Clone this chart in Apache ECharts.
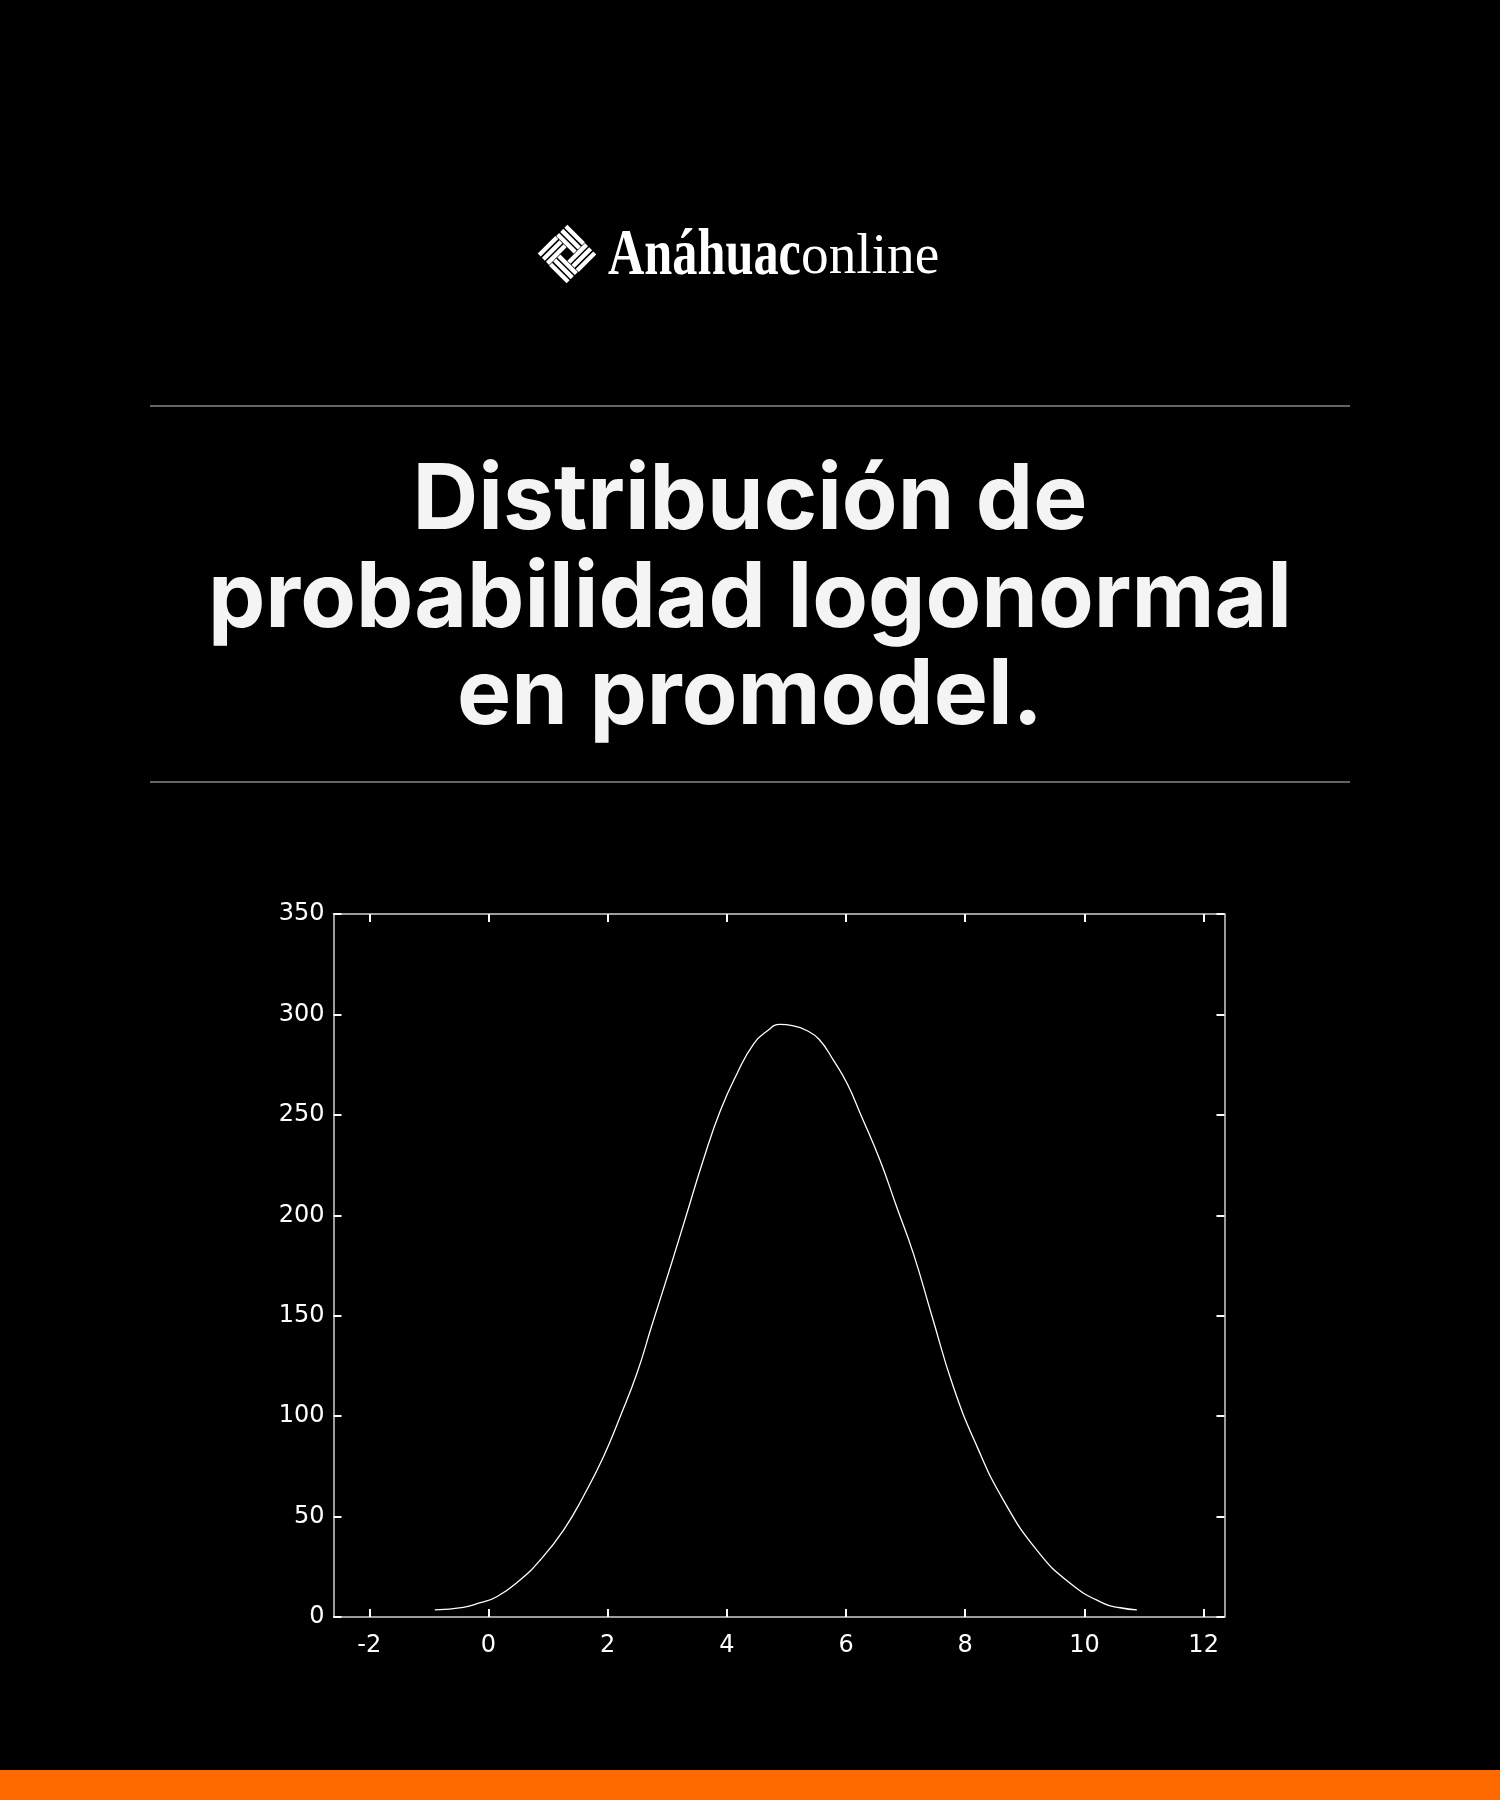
<!DOCTYPE html>
<html>
<head>
<meta charset="utf-8">
<script src="https://cdn.jsdelivr.net/npm/echarts@6/dist/echarts.min.js"></script>
<style>
html,body{margin:0;padding:0;background:#000;}
#chart{width:1500px;height:1800px;}
</style>
</head>
<body>
<div id="chart"></div>
<script>
// ---- data ----
const xValues = [-0.9, -0.42, -0.15, 0.14, 0.53, 0.87, 1.26, 1.59, 1.93, 2.21, 2.49, 2.74, 3.05, 3.33, 3.61, 3.89, 4.17, 4.45, 4.67, 4.89, 5.1, 5.34, 5.55, 5.79, 6.02, 6.24, 6.57, 6.85, 7.13, 7.44, 7.80, 8.20, 8.64, 9.20, 9.76, 10.32, 10.6, 10.88];
const yValues = [3.5, 4.8, 7.0, 10.1, 18.4, 28.4, 43.3, 59.9, 79.8, 99.7, 121.2, 145, 174, 201, 228, 252, 270.5, 285.4, 291.6, 295, 294.4, 292, 287.5, 277.1, 265.5, 250.6, 227.4, 204.1, 180.9, 150, 114.6, 84.7, 58.2, 33.3, 16.8, 6.8, 4.6, 3.5];
const xTickValues = [-2, 0, 2, 4, 6, 8, 10, 12];
const yTickValues = [0, 50, 100, 150, 200, 250, 300, 350];
const titleLines = ['Distribución de', 'probabilidad logonormal', 'en promodel.'];
const logoBold = 'Anáhuac';
const logoLight = 'online';

const chart = echarts.init(document.getElementById('chart'), null, {renderer: 'canvas'});

const lineData = xValues.map((x, i) => [x, yValues[i]]);
const axisLineColor = '#d0d0d0';
const tickColor = '#ffffff';
const labelFont = 'DejaVu Sans';

// logo icon: pinwheel of four 3-stripe blocks, rotated 45deg
const S = 42, W = 16, L = S - W, st = 4.3, sg = (W - 3 * st) / 2;
const iconBlocks = [];
const blocks = [
  {x: -S / 2, y: -S / 2, w: L, h: W, horiz: true},
  {x: S / 2 - W, y: -S / 2, w: W, h: L, horiz: false},
  {x: S / 2 - L, y: S / 2 - W, w: L, h: W, horiz: true},
  {x: -S / 2, y: S / 2 - L, w: W, h: L, horiz: false}
];
blocks.forEach(b => {
  for (let k = 0; k < 3; k++) {
    const off = k * (st + sg);
    iconBlocks.push({
      type: 'rect',
      shape: b.horiz
        ? {x: b.x + 0.6, y: b.y + off, width: b.w - 1.2, height: st}
        : {x: b.x + off, y: b.y + 0.6, width: st, height: b.h - 1.2},
      style: {fill: '#fff'}
    });
  }
});

const graphics = [
  {type: 'group', x: 567, y: 254, rotation: Math.PI / 4, children: iconBlocks},
  {type: 'text', x: 608, y: 290, scaleX: 0.762,
   style: {text: logoBold, font: 'bold 66px "Liberation Serif"', fill: '#fff', verticalAlign: 'bottom'}},
  {type: 'text', x: 801, y: 287, scaleX: 0.97,
   style: {text: logoLight, font: 'normal 57px "Liberation Serif"', fill: '#fff', verticalAlign: 'bottom'}},
  {type: 'line', shape: {x1: 150, y1: 406, x2: 1350, y2: 406}, style: {stroke: '#c8c8c8', lineWidth: 1.2}},
  {type: 'line', shape: {x1: 150, y1: 782, x2: 1350, y2: 782}, style: {stroke: '#c8c8c8', lineWidth: 1.2}},
  {type: 'rect', shape: {x: 0, y: 1770, width: 1500, height: 30}, style: {fill: '#ff6a00'}}
];
const titleY = [502, 600, 697];
titleLines.forEach((t, i) => {
  graphics.push({type: 'text', x: 750, y: titleY[i],
    style: {text: t, font: '700 91px "Inter"', fill: '#f4f4f4', align: 'center', verticalAlign: 'middle'}});
});

const baseX = {
  type: 'value', min: -2.6, max: 12.35,
  splitLine: {show: false},
  axisLine: {show: true, onZero: false, lineStyle: {color: axisLineColor, width: 1.5}},
  axisTick: {show: true, inside: true, length: 8, customValues: xTickValues, lineStyle: {color: tickColor, width: 2}}
};
const baseY = {
  type: 'value', min: 0, max: 350, interval: 50,
  splitLine: {show: false},
  axisLine: {show: true, onZero: false, lineStyle: {color: axisLineColor, width: 1.5}},
  axisTick: {show: true, inside: true, length: 8, customValues: yTickValues, lineStyle: {color: tickColor, width: 2}}
};

chart.setOption({
  backgroundColor: '#000',
  animation: false,
  grid: {left: 333.5, right: 275.5, top: 914, bottom: 183, containLabel: false},
  xAxis: [
    Object.assign({}, baseX, {position: 'bottom',
      axisLabel: {show: true, customValues: xTickValues, color: '#fff', fontSize: 24, fontFamily: labelFont, margin: 17}}),
    Object.assign({}, baseX, {position: 'top', axisLabel: {show: false}})
  ],
  yAxis: [
    Object.assign({}, baseY, {position: 'left',
      axisLabel: {show: true, customValues: yTickValues, color: '#fff', fontSize: 24, fontFamily: labelFont, margin: 9}}),
    Object.assign({}, baseY, {position: 'right', axisLabel: {show: false}})
  ],
  series: [{
    type: 'line', xAxisIndex: 0, yAxisIndex: 0,
    data: lineData, smooth: 0.5, showSymbol: false,
    lineStyle: {color: '#ffffff', width: 1.3}
  }],
  graphic: graphics
});
</script>
</body>
</html>
